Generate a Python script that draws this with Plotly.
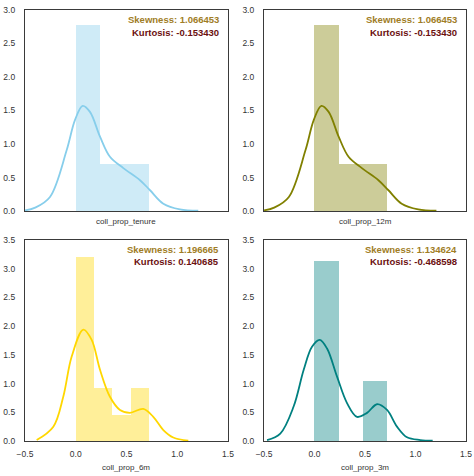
import numpy as np
import plotly.graph_objects as go

# histogram bins (edges) and density heights
tenure_edges = [0.0, 0.24, 0.48, 0.72]
tenure_density = [2.78, 0.70, 0.70]
m12_edges = [0.0, 0.24, 0.48, 0.72]
m12_density = [2.78, 0.70, 0.70]
m6_edges = [0.0, 0.18, 0.36, 0.54, 0.72]
m6_density = [3.21, 0.92, 0.46, 0.92]
m3_edges = [0.0, 0.24, 0.48, 0.72]
m3_density = [3.13, 0.0, 1.05]

# kde curves
tenure_kde_x = [-0.5, -0.4, -0.254, -0.089, -0.007, 0.068, 0.14, 0.239, 0.337, 0.469, 0.633, 0.732, 0.863, 1.027, 1.207]
tenure_kde_y = [0.01, 0.05, 0.21, 0.91, 1.36, 1.57, 1.48, 1.11, 0.81, 0.64, 0.46, 0.31, 0.11, 0.025, 0.005]
m12_kde_x = tenure_kde_x
m12_kde_y = tenure_kde_y
m6_kde_x = [-0.385, -0.221, -0.123, -0.04, 0.075, 0.157, 0.239, 0.337, 0.436, 0.534, 0.666, 0.764, 0.863, 0.961, 1.109]
m6_kde_y = [0.017, 0.25, 0.77, 1.47, 1.94, 1.76, 1.24, 0.77, 0.54, 0.49, 0.56, 0.42, 0.19, 0.06, 0.006]
m3_kde_x = [-0.47, -0.339, -0.207, -0.107, -0.025, 0.051, 0.124, 0.223, 0.322, 0.421, 0.52, 0.619, 0.718, 0.817, 0.916, 1.048, 1.17]
m3_kde_y = [0.017, 0.13, 0.6, 1.24, 1.64, 1.76, 1.61, 1.12, 0.66, 0.42, 0.49, 0.64, 0.54, 0.25, 0.064, 0.017, 0.006]

labels = ['coll_prop_tenure', 'coll_prop_12m', 'coll_prop_6m', 'coll_prop_3m']
skewness = ['1.066453', '1.066453', '1.196665', '1.134624']
kurtosis = ['-0.153430', '-0.153430', '0.140685', '-0.468598']
x_ticks = [-0.5, 0.0, 0.5, 1.0, 1.5]

panels = [
    (tenure_edges, tenure_density, tenure_kde_x, tenure_kde_y, '135,206,235'),
    (m12_edges, m12_density, m12_kde_x, m12_kde_y, '128,128,0'),
    (m6_edges, m6_density, m6_kde_x, m6_kde_y, '255,215,0'),
    (m3_edges, m3_density, m3_kde_x, m3_kde_y, '0,128,128'),
]

fig = go.Figure()
x_dom = [[0, 0.4603], [0.542, 1]]
y_dom = [[0.5336, 1], [0, 0.4664]]
font = 'Liberation Sans, Arial, sans-serif'

for i, (edges, dens, kx, ky, rgb) in enumerate(panels):
    n = '' if i == 0 else str(i + 1)
    edges = np.array(edges)
    centers = (edges[:-1] + edges[1:]) / 2
    widths = np.diff(edges)
    fig.add_trace(go.Bar(x=centers, y=dens, width=widths,
                         marker=dict(color='rgba(%s,0.4)' % rgb, line=dict(width=0)),
                         xaxis='x' + n, yaxis='y' + n, showlegend=False))
    fig.add_trace(go.Scatter(x=kx, y=ky, mode='lines',
                             line=dict(color='rgb(%s)' % rgb, width=1.8, shape='spline'),
                             xaxis='x' + n, yaxis='y' + n, showlegend=False))
    row, col = i // 2, i % 2
    top = row == 0
    fig.layout['xaxis' + n] = dict(domain=x_dom[col], range=[-0.5, 1.5], tickvals=x_ticks,
                                   tickformat='.1f', showticklabels=not top,
                                   anchor='y' + n, showline=True, mirror=True,
                                   linecolor='#3a3a3a', linewidth=1.2, showgrid=False,
                                   zeroline=False, ticks='outside', ticklen=5,
                                   tickcolor='rgba(0,0,0,0)', automargin=False,
                                   tickfont=dict(size=8.5, color='#333'))
    ymax = 3.0 if top else 3.5
    fig.layout['yaxis' + n] = dict(domain=y_dom[row], range=[0, ymax], dtick=0.5,
                                   tickformat='.1f', anchor='x' + n, showline=True,
                                   mirror=True, linecolor='#3a3a3a', linewidth=1.2,
                                   showgrid=False, zeroline=False, ticks='outside',
                                   ticklen=7, tickcolor='rgba(0,0,0,0)', automargin=False,
                                   tickfont=dict(size=8.5, color='#333'))
    xd = 'x' + n + ' domain'
    yd = 'y' + n + ' domain'
    fig.add_annotation(x=1, y=1, xref=xd, yref=yd, xanchor='right', yanchor='middle',
                       xshift=-7, yshift=-9.5, showarrow=False,
                       text='<b>Skewness: %s</b>' % skewness[i],
                       font=dict(size=9.5, color='#a07d25', family=font))
    fig.add_annotation(x=1, y=1, xref=xd, yref=yd, xanchor='right', yanchor='middle',
                       xshift=-7, yshift=-22, showarrow=False,
                       text='<b>Kurtosis: %s</b>' % kurtosis[i],
                       font=dict(size=9.5, color='#6b1010', family=font))
    fig.add_annotation(x=0.5, y=0, xref=xd, yref=yd, xanchor='center', yanchor='middle',
                       yshift=-10 if top else -26, showarrow=False, text=labels[i],
                       font=dict(size=8, color='#333', family=font))

fig.update_layout(width=474, height=476, margin=dict(l=25, r=8, t=10, b=35),
                  plot_bgcolor='white', paper_bgcolor='white', barmode='overlay',
                  bargap=0, font=dict(family=font))
fig.write_html("out.html", config={'displayModeBar': False},
               post_script="document.body.style.margin='0';")
